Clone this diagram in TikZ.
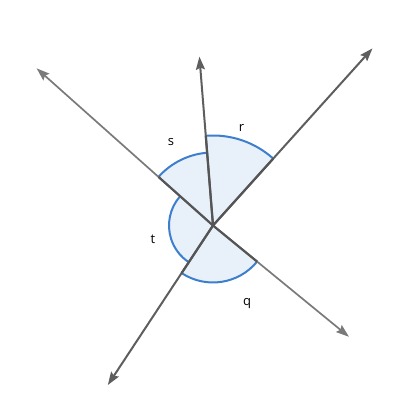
\documentclass[tikz,border=0pt]{standalone}
\usepackage{fontspec}
\setmainfont{Open Sans}
\usetikzlibrary{arrows.meta,calc}
\definecolor{raygray}{HTML}{7A7A7A}
\definecolor{darkray}{HTML}{5E5E5E}
\definecolor{sidegray}{HTML}{555555}
\definecolor{arcblue}{HTML}{3D7FCC}
\definecolor{fillblue}{HTML}{E8F0FA}
\tikzset{
  ray/.style={draw=raygray, line width=1.7pt, -{Stealth[length=13pt,width=9pt,inset=2pt]}},
  darkray/.style={ray, draw=darkray, line width=2pt},
  side/.style={draw=sidegray, line width=2.2pt},
  sector/.style={fill=fillblue},
  anglearc/.style={draw=arcblue, line width=2pt},
  lbl/.style={font=\fontsize{13}{15}\selectfont, text=black, inner sep=0pt}
}
\begin{document}
\begin{tikzpicture}[x=1pt,y=1pt]
\useasboundingbox (0,0) rectangle (410,403);
\coordinate (O) at (213,177.5);
\coordinate (A) at ($(O)+(48:238.3)$);
\coordinate (B) at ($(O)+(94.6:169.4)$);
\coordinate (C) at ($(O)+(138.3:236.2)$);
\coordinate (D) at ($(O)+(236.6:191.1)$);
\coordinate (E) at ($(O)+(320.7:175.7)$);
% sectors
\fill[sector] (O) -- ($(O)+(48:90)$) arc[start angle=48,end angle=94.6,radius=90] -- cycle;
\fill[sector] (O) -- ($(O)+(94.6:73)$) arc[start angle=94.6,end angle=138.3,radius=73] -- cycle;
\fill[sector] (O) -- ($(O)+(138.3:44)$) arc[start angle=138.3,end angle=236.6,radius=44] -- cycle;
\fill[sector] (O) -- ($(O)+(236.6:57)$) arc[start angle=236.6,end angle=320.7,radius=57] -- cycle;
% arcs
\draw[anglearc] ($(O)+(48:90)$) arc[start angle=48,end angle=94.6,radius=90];
\draw[anglearc] ($(O)+(94.6:73)$) arc[start angle=94.6,end angle=138.3,radius=73];
\draw[anglearc] ($(O)+(138.3:44)$) arc[start angle=138.3,end angle=236.6,radius=44];
\draw[anglearc] ($(O)+(236.6:57)$) arc[start angle=236.6,end angle=320.7,radius=57];
% rays
\draw[darkray] (O) -- (A);
\draw[darkray] (O) -- (B);
\draw[ray] (O) -- (C);
\draw[darkray] (O) -- (D);
\draw[ray] (O) -- (E);
% dark sides
\draw[side] (O) -- ($(O)+(48:90)$);
\draw[side] (O) -- ($(O)+(94.6:90)$);
\draw[side] (O) -- ($(O)+(138.3:73)$);
\draw[side] (O) -- ($(O)+(236.6:57)$);
\draw[side] (O) -- ($(O)+(320.7:57)$);
% labels
\node[lbl] (r) at (241.5,275.5) {r};
\node[lbl] (s) at (171,260.5) {s};
\node[lbl] (t) at (153,163.5) {t};
\node[lbl] (q) at (247,99) {q};
\end{tikzpicture}
\end{document}
